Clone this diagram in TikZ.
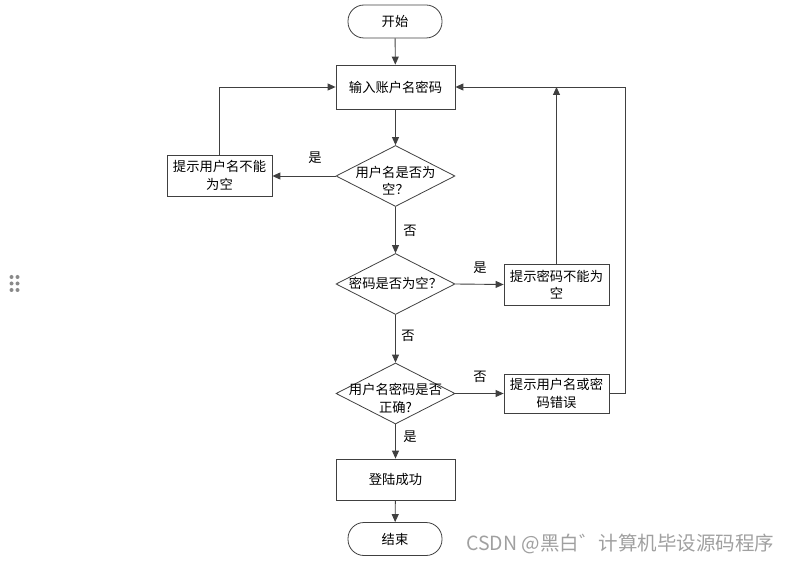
\documentclass[tikz,border=0pt]{standalone}
\usepackage{fontspec}
\newfontfamily\cjk{Noto Sans CJK SC}
\usetikzlibrary{arrows.meta,shapes.geometric}
\newcommand\diatext[2]{\raisebox{#1}{\makebox[0pt]{\smash{\begin{tabular}{@{}c@{}}#2\end{tabular}}}}}
\definecolor{lc}{HTML}{404040}
\definecolor{wm}{HTML}{A0A0A0}
\definecolor{dots}{HTML}{8A8A8A}
\begin{document}
\begin{tikzpicture}[x=1pt,y=-1pt,
  every node/.style={font=\cjk\fontsize{13.3}{17.5}\selectfont, text=black},
  term/.style={draw=lc, line width=0.8pt, rounded corners=16pt, minimum width=94pt, minimum height=33pt, inner sep=0pt},
  proc/.style={draw=lc, line width=0.8pt, minimum width=#1, inner sep=0pt, align=center},
  proc/.default=119pt,
  dia/.style={draw=lc, line width=0.8pt, shape=diamond, minimum width=119pt, minimum height=61pt, inner sep=0pt},
  conn/.style={draw=lc, line width=0.9pt, -{Triangle[length=8pt,width=7pt]}},
  lbl/.style={inner sep=0pt}
]
\useasboundingbox (0,0) rectangle (793,564);
\node[term] (start) at (395,21.5) {开始};
\node[proc, minimum height=44pt] (input) at (395.5,87) {输入账户名密码};
\node[dia] (d1) at (395.5,176) {\diatext{-20pt}{用户名是否为\\空？}};
\node[proc=105pt, minimum height=41pt] (lbox) at (219.5,175.5) {提示用户名不能\\为空};
\node[dia] (d2) at (395.5,284) {\diatext{-8.5pt}{密码是否为空？}};
\node[proc=105pt, minimum height=41pt] (box2) at (556.5,284.5) {提示密码不能为\\空};
\node[dia] (d3) at (395.5,393.5) {\diatext{-20pt}{用户名密码是否\\正确?}};
\node[proc=105pt, minimum height=39pt] (box3) at (556.5,393.5) {提示用户名或密\\码错误};
\node[proc, minimum height=41pt] (succ) at (395.5,479.5) {登陆成功};
\node[term] (stop) at (395,539) {结束};
\coordinate (rc) at (625,393.5);

\draw[conn] (start) -- (input);
\draw[conn] (input) -- (d1);
\draw[conn] (d1.west) -- (d1.west -| lbox.east);
\draw[conn] (lbox.north) |- (input.west);
\draw[conn] (d1.south) -- (d2.north);
\draw[conn] (d2.east) -- (box2.west);
\draw[conn] (box2.north) -- (box2.north |- input.east);
\draw[conn] (d2.south) -- (d3.north);
\draw[conn] (d3.east) -- (box3.west);
\draw[conn] (box3.east) -- (rc) |- (input.east);
\draw[conn] (d3.south) -- (succ);
\draw[conn] (succ) -- (stop);

\node[lbl] (l1) at (315,158) {是};
\node[lbl] (l2) at (410,231) {否};
\node[lbl] (l3) at (480,268) {是};
\node[lbl] (l4) at (408,336) {否};
\node[lbl] (l5) at (480,377) {否};
\node[lbl] (l6) at (410,437) {是};

\node[anchor=west, inner sep=0pt, font=\cjk\fontsize{19.5}{22}\selectfont, text=wm] (wmark) at (466,544) {CSDN @黑白゛计算机毕设源码程序};

\foreach \yy in {277,283.5,290} {
  \fill[dots] (11.5,\yy) circle (2pt);
  \fill[dots] (17.5,\yy) circle (2pt);
}
\end{tikzpicture}
\end{document}
